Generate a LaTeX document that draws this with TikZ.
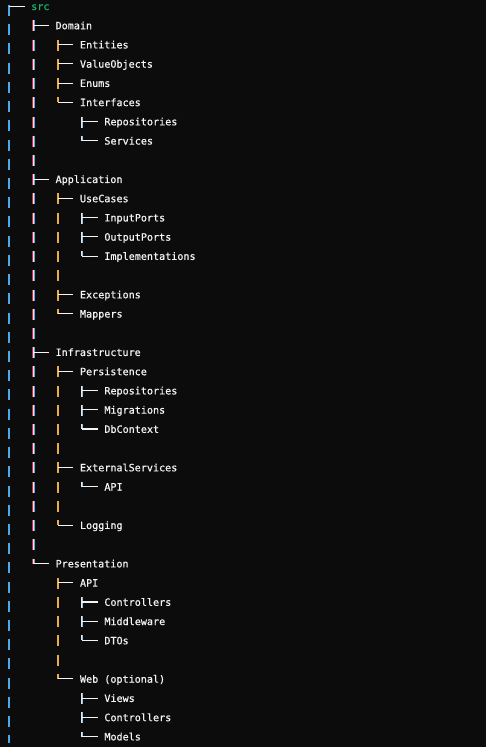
\documentclass[tikz,border=0pt]{standalone}
\usepackage{fontspec}
\setmonofont[FakeBold=0.6]{DejaVu Sans Mono}
\definecolor{termbg}{HTML}{0C0C0C}
\definecolor{termfg}{HTML}{F4F4F4}
\definecolor{srcgreen}{HTML}{1FB072}
\definecolor{fringeB}{HTML}{4FA8E8}
\definecolor{fringeO}{HTML}{EAAE48}
\definecolor{fringeR}{HTML}{D8243C}
\definecolor{fringeW}{HTML}{EAEAEA}
\tikzset{
    item/.style={anchor=west,inner sep=0pt,text height=8pt,text depth=0.4pt,text=termfg,font=\ttfamily\fontsize{10.1}{12}\selectfont},
    arm/.style={draw=termfg,line width=1.1pt},
    guide/.style={line width=1pt,dash pattern=on 11pt off 8.22pt},
    guideA/.style={guide,draw=fringeB,line width=1.5pt},
    guideB/.style={guide,draw=fringeW,
        preaction={guide,draw=fringeR,transform canvas={xshift=-1pt}},
        postaction={guide,draw=fringeB,transform canvas={xshift=1pt}}},
    guideC/.style={guide,draw=fringeO,line width=1.5pt},
    guideD/.style={guide,draw=none,
        preaction={guide,draw=fringeW,transform canvas={xshift=-0.5pt}},
        postaction={guide,draw=fringeB!60!fringeW,transform canvas={xshift=0.5pt}}},
    atcol/.style={xshift=2.4pt},
    armto/.style={xshift=-6.5pt},
    firstrow/.style={xshift=2.4pt,yshift=-14.22pt}
}
\begin{document}
\begin{tikzpicture}[x=24.4pt,y=-19.22pt]
        \fill[termbg] (0pt,0pt) rectangle (486pt,-747pt);
        \begin{scope}[shift={(31pt,-6.2pt)}]
        % folders and files, one per row
        \node[item,text=srcgreen] (src) at (0,0) {src};
        \node[item] (dom) at (1,1) {Domain};
        \node[item] (ent) at (2,2) {Entities};
        \node[item] (vo) at (2,3) {ValueObjects};
        \node[item] (enu) at (2,4) {Enums};
        \node[item] (intf) at (2,5) {Interfaces};
        \node[item] (irep) at (3,6) {Repositories};
        \node[item] (isvc) at (3,7) {Services};
        \node[item] (app) at (1,9) {Application};
        \node[item] (uc) at (2,10) {UseCases};
        \node[item] (inp) at (3,11) {InputPorts};
        \node[item] (outp) at (3,12) {OutputPorts};
        \node[item] (impl) at (3,13) {Implementations};
        \node[item] (exc) at (2,15) {Exceptions};
        \node[item] (map) at (2,16) {Mappers};
        \node[item] (infra) at (1,18) {Infrastructure};
        \node[item] (pers) at (2,19) {Persistence};
        \node[item] (prep) at (3,20) {Repositories};
        \node[item] (mig) at (3,21) {Migrations};
        \node[item] (dbc) at (3,22) {DbContext};
        \node[item] (ext) at (2,24) {ExternalServices};
        \node[item] (eapi) at (3,25) {API};
        \node[item] (log) at (2,27) {Logging};
        \node[item] (pres) at (1,29) {Presentation};
        \node[item] (api) at (2,30) {API};
        \node[item] (ctl) at (3,31) {Controllers};
        \node[item] (mid) at (3,32) {Middleware};
        \node[item] (dto) at (3,33) {DTOs};
        \node[item] (web) at (2,35) {Web (optional)};
        \node[item] (view) at (3,36) {Views};
        \node[item] (wctl) at (3,37) {Controllers};
        \node[item] (mod) at (3,38) {Models};
        \coordinate (root) at (-22pt,1.2pt);
        \coordinate (rootend) at (-22pt,-736.4pt);
        \end{scope}
        % vertical guides
        \draw[guideA] (root) -- (rootend);
        \draw[guideB] ([firstrow]src.west) -- ([atcol]src.west |- pres.west);
        \draw[guideC] ([firstrow]dom.west) -- ([atcol]dom.west |- intf.west);
        \draw[guideD] ([firstrow]intf.west) -- ([atcol]intf.west |- isvc.west);
        \draw[guideC] ([firstrow]app.west) -- ([atcol]app.west |- map.west);
        \draw[guideD] ([firstrow]uc.west) -- ([atcol]uc.west |- impl.west);
        \draw[guideC] ([firstrow]infra.west) -- ([atcol]infra.west |- log.west);
        \draw[guideD] ([firstrow]pers.west) -- ([atcol]pers.west |- dbc.west);
        \draw[guideD] ([firstrow]ext.west) -- ([atcol]ext.west |- eapi.west);
        \draw[guideC] ([firstrow]pres.west) -- ([atcol]pres.west |- web.west);
        \draw[guideD] ([firstrow]api.west) -- ([atcol]api.west |- dto.west);
        \draw[guideD] ([firstrow]web.west) -- ([atcol]web.west |- mod.west);
        % branches
        \draw[arm] (root |- src.west) -- ([armto]src.west);
        \draw[arm] ([atcol]src.west |- dom.west) -- ([armto]dom.west);
        \draw[arm] ([atcol]dom.west |- ent.west) -- ([armto]ent.west);
        \draw[arm] ([atcol]dom.west |- vo.west) -- ([armto]vo.west);
        \draw[arm] ([atcol]dom.west |- enu.west) -- ([armto]enu.west);
        \draw[arm] ([atcol]dom.west |- intf.west) -- ([armto]intf.west);
        \draw[arm] ([atcol]intf.west |- irep.west) -- ([armto]irep.west);
        \draw[arm] ([atcol]intf.west |- isvc.west) -- ([armto]isvc.west);
        \draw[arm] ([atcol]src.west |- app.west) -- ([armto]app.west);
        \draw[arm] ([atcol]app.west |- uc.west) -- ([armto]uc.west);
        \draw[arm] ([atcol]uc.west |- inp.west) -- ([armto]inp.west);
        \draw[arm] ([atcol]uc.west |- outp.west) -- ([armto]outp.west);
        \draw[arm] ([atcol]uc.west |- impl.west) -- ([armto]impl.west);
        \draw[arm] ([atcol]app.west |- exc.west) -- ([armto]exc.west);
        \draw[arm] ([atcol]app.west |- map.west) -- ([armto]map.west);
        \draw[arm] ([atcol]src.west |- infra.west) -- ([armto]infra.west);
        \draw[arm] ([atcol]infra.west |- pers.west) -- ([armto]pers.west);
        \draw[arm] ([atcol]pers.west |- prep.west) -- ([armto]prep.west);
        \draw[arm] ([atcol]pers.west |- mig.west) -- ([armto]mig.west);
        \draw[arm] ([atcol]pers.west |- dbc.west) -- ([armto]dbc.west);
        \draw[arm] ([atcol]infra.west |- ext.west) -- ([armto]ext.west);
        \draw[arm] ([atcol]ext.west |- eapi.west) -- ([armto]eapi.west);
        \draw[arm] ([atcol]infra.west |- log.west) -- ([armto]log.west);
        \draw[arm] ([atcol]src.west |- pres.west) -- ([armto]pres.west);
        \draw[arm] ([atcol]pres.west |- api.west) -- ([armto]api.west);
        \draw[arm] ([atcol]api.west |- ctl.west) -- ([armto]ctl.west);
        \draw[arm] ([atcol]api.west |- mid.west) -- ([armto]mid.west);
        \draw[arm] ([atcol]api.west |- dto.west) -- ([armto]dto.west);
        \draw[arm] ([atcol]pres.west |- web.west) -- ([armto]web.west);
        \draw[arm] ([atcol]web.west |- view.west) -- ([armto]view.west);
        \draw[arm] ([atcol]web.west |- wctl.west) -- ([armto]wctl.west);
        \draw[arm] ([atcol]web.west |- mod.west) -- ([armto]mod.west);
\end{tikzpicture}
\end{document}
